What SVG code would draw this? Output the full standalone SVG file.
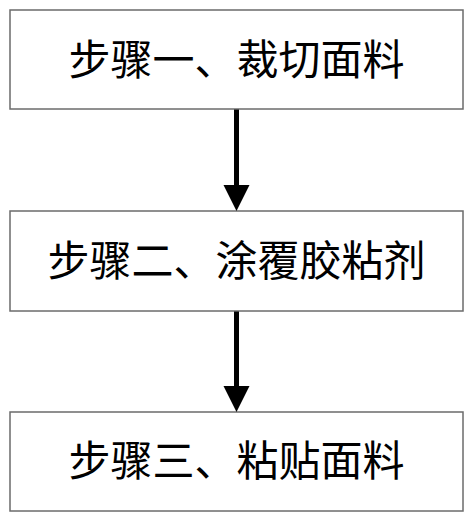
<svg xmlns="http://www.w3.org/2000/svg" width="474" height="523" viewBox="0 0 474 523">
<style>
.box{fill:#ffffff;stroke:#6b6b6b;stroke-width:1.5}
.lbl{font-family:"Noto Sans CJK SC","Noto Sans CJK JP",sans-serif;font-size:42px;fill:#000;text-anchor:middle}
.conn{stroke:#000;stroke-width:5;fill:none}
</style>
<defs>
<marker id="ah" markerUnits="userSpaceOnUse" markerWidth="27" markerHeight="27" refX="0" refY="13" orient="auto" overflow="visible">
<path d="M0,0 L26,13 L0,26 Z" fill="#000"/>
</marker>
</defs>
<rect width="474" height="523" fill="#fff"/>
<g id="step1">
<rect class="box" x="10" y="10" width="453" height="99"/>
<text class="lbl" x="236.5" y="75">步骤一、裁切面料</text>
</g>
<g id="step2">
<rect class="box" x="10" y="211" width="453" height="100"/>
<text class="lbl" x="236.5" y="276">步骤二、涂覆胶粘剂</text>
</g>
<g id="step3">
<rect class="box" x="10" y="412" width="453" height="99"/>
<text class="lbl" x="236.5" y="476">步骤三、粘贴面料</text>
</g>
<g id="connectors">
<line class="conn" x1="236.5" y1="109.5" x2="236.5" y2="185" marker-end="url(#ah)"/>
<line class="conn" x1="236.5" y1="311.5" x2="236.5" y2="386" marker-end="url(#ah)"/>
</g>
</svg>
